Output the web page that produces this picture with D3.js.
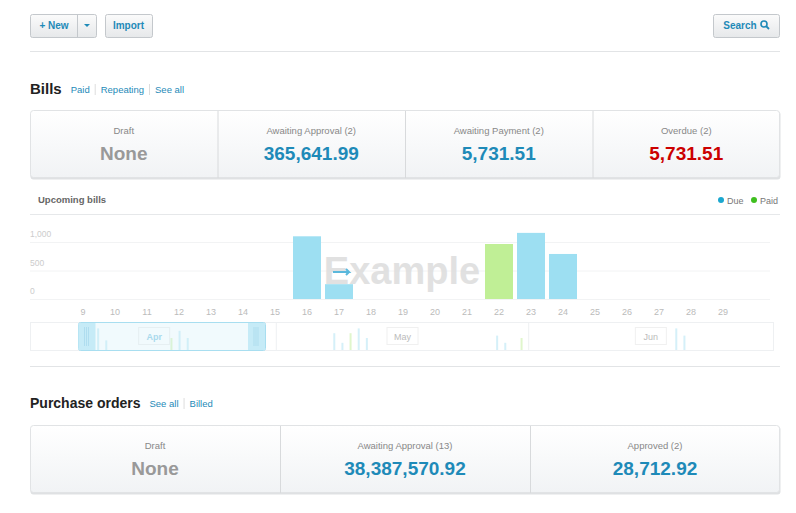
<!DOCTYPE html>
<html><head><meta charset="utf-8">
<script src="https://cdn.jsdelivr.net/npm/d3@7"></script>
<style>body{margin:0;background:#fff;font-family:"Helvetica Neue",Arial,"Liberation Sans",sans-serif}</style>
</head><body><svg id="s" width="796" height="513"></svg>
<script>
const days=d3.range(9,30);
const dueDays=[16,17,23,24], dueVals=[1100,260,1160,790];
const paidDays=[22], paidVals=[965];
const yTicks=[0,500,1000];
const navDueDays=[8,9,18,19,37,38,40,41,57,58,79,80], navDueVals=[900,400,800,500,700,300,900,500,600,300,900,600];
const navPaidDays=[17,39,60], navPaidVals=[500,700,500];
const months=["Apr","May","Jun"];
const billCards=[["Draft","None"],["Awaiting Approval (2)","365,641.99"],["Awaiting Payment (2)","5,731.51"],["Overdue (2)","5,731.51"]];
const poCards=[["Draft","None"],["Awaiting Approval (13)","38,387,570.92"],["Approved (2)","28,712.92"]];

const svg=d3.select("#s");
const blue="#1e8ab8";
const defs=svg.append("defs");
const g1=defs.append("linearGradient").attr("id","btn").attr("x1",0).attr("y1",0).attr("x2",0).attr("y2",1);
g1.append("stop").attr("offset",0).attr("stop-color","#fbfbfb");g1.append("stop").attr("offset",1).attr("stop-color","#e6e8ea");
const g2=defs.append("linearGradient").attr("id","card").attr("x1",0).attr("y1",0).attr("x2",0).attr("y2",1);
g2.append("stop").attr("offset",0).attr("stop-color","#ffffff");g2.append("stop").attr("offset",1).attr("stop-color","#f1f3f5");

function btn(x,w,label){svg.append("rect").attr("x",x+.5).attr("y",14.5).attr("width",w).attr("height",23).attr("rx",2).attr("fill","url(#btn)").attr("stroke","#c4c8cc");
 if(label)svg.append("text").attr("x",x+w/2).attr("y",29).attr("text-anchor","middle").attr("font-size",10).attr("font-weight","bold").attr("fill",blue).text(label);}
btn(30,66,null);
svg.append("text").attr("x",54).attr("y",29).attr("text-anchor","middle").attr("font-size",10).attr("font-weight","bold").attr("fill",blue).text("+ New");
svg.append("line").attr("x1",77.5).attr("x2",77.5).attr("y1",15).attr("y2",37).attr("stroke","#c4c8cc");
svg.append("path").attr("d","M84,24 l6,0 l-3,3z").attr("fill",blue);
btn(105,47,"Import");
btn(713,66,null);
svg.append("text").attr("x",740).attr("y",29).attr("text-anchor","middle").attr("font-size",10).attr("font-weight","bold").attr("fill",blue).text("Search");
svg.append("circle").attr("cx",764).attr("cy",24).attr("r",3).attr("fill","none").attr("stroke",blue).attr("stroke-width",1.6);
svg.append("line").attr("x1",766).attr("y1",26).attr("x2",769).attr("y2",29).attr("stroke",blue).attr("stroke-width",1.8);
[51.5,366.5].forEach(y=>svg.append("line").attr("x1",30).attr("x2",780).attr("y1",y).attr("y2",y).attr("stroke","#e2e4e6"));

function header(y,title,links){
 const t=svg.append("text").attr("x",30).attr("y",y).attr("font-size",title=="Bills"?15:14).attr("font-weight","bold").attr("fill","#222").text(title);
 let x=30+t.node().getComputedTextLength()+9;
 links.forEach((l,i)=>{const lt=svg.append("text").attr("x",x).attr("y",y-1).attr("font-size",9.5).attr("fill",blue).text(l);
  x+=lt.node().getComputedTextLength();
  if(i<links.length-1){svg.append("line").attr("x1",x+5.5).attr("x2",x+5.5).attr("y1",y-10).attr("y2",y+1).attr("stroke","#ddd");x+=11;}});
}
header(94,"Bills",["Paid","Repeating","See all"]);
header(408,"Purchase orders",["See all","Billed"]);

function cards(y,list,colors){
 const x=d3.scaleBand().domain(d3.range(list.length)).range([30,780]);
 svg.append("rect").attr("x",30.5).attr("y",y+1.5).attr("width",750).attr("height",68).attr("rx",3).attr("fill","#dfe1e3");
 svg.append("rect").attr("x",30.5).attr("y",y+.5).attr("width",749).attr("height",67).attr("rx",3).attr("fill","url(#card)").attr("stroke","#e1e3e5");
 list.forEach((c,i)=>{
  if(i>0)svg.append("line").attr("x1",x(i)+.5).attr("x2",x(i)+.5).attr("y1",y+1).attr("y2",y+68).attr("stroke","#d8dadc");
  svg.append("text").attr("x",x(i)+x.bandwidth()/2).attr("y",y+24).attr("text-anchor","middle").attr("font-size",9.5).attr("fill","#888").text(c[0]);
  svg.append("text").attr("x",x(i)+x.bandwidth()/2).attr("y",y+50).attr("text-anchor","middle").attr("font-size",19).attr("font-weight","bold").attr("fill",colors[i]).text(c[1]);
 });
}
cards(110,billCards,["#999",blue,blue,"#cc0000"]);
cards(425,poCards,["#999",blue,blue]);

// chart header
svg.append("text").attr("x",38).attr("y",203).attr("font-size",9.5).attr("font-weight","bold").attr("fill","#666").text("Upcoming bills");
svg.append("line").attr("x1",30).attr("x2",780).attr("y1",214.5).attr("y2",214.5).attr("stroke","#e6e8ea");
const leg=[["Due","#1ba7cf",721],["Paid","#3fbf1f",754]];
leg.forEach(l=>{svg.append("circle").attr("cx",l[2]).attr("cy",200).attr("r",3).attr("fill",l[1]);
 svg.append("text").attr("x",l[2]+6).attr("y",203.5).attr("font-size",9).attr("fill","#777").text(l[0]);});

const x=d3.scaleLinear().domain([9,29]).range([83,723]);
const y=d3.scaleLinear().domain([0,1000]).range([299,242]);
const grid=svg.append("g");
yTicks.forEach(t=>{grid.append("line").attr("x1",30).attr("x2",770).attr("y1",y(t)+.5).attr("y2",y(t)+.5).attr("stroke","#f2f3f4");
 grid.append("text").attr("x",30).attr("y",y(t)-5).attr("font-size",8.5).attr("fill","#ccc").text(d3.format(",")(t));});
const bw=28;
svg.selectAll(".due").data(dueDays).join("rect").attr("x",d=>x(d)-bw/2).attr("width",bw).attr("y",(d,i)=>y(dueVals[i])).attr("height",(d,i)=>299-y(dueVals[i])).attr("fill","#9ddff2");
svg.selectAll(".paid").data(paidDays).join("rect").attr("x",d=>x(d)-bw/2).attr("width",bw).attr("y",(d,i)=>y(paidVals[i])).attr("height",(d,i)=>299-y(paidVals[i])).attr("fill","#c0ef96");
svg.append("text").attr("x",402).attr("y",284).attr("text-anchor","middle").attr("font-size",38).attr("font-weight","bold").attr("fill","#d8d8d8").attr("opacity",.75).text("Example");
svg.append("path").attr("d","M333,272 h16 l-3,-3 M349,272 l-3,3").attr("stroke","#5ab8dc").attr("stroke-width",2).attr("fill","none");
svg.append("g").selectAll("text").data(days).join("text").attr("x",d=>x(d)).attr("y",315).attr("text-anchor","middle").attr("font-size",9).attr("fill","#bbb").text(d=>d);

// navigator
const nx=d3.scaleLinear().domain([0,91]).range([32,773]);
const ny=d3.scaleLinear().domain([0,1000]).range([350,326]);
svg.append("rect").attr("x",30.5).attr("y",322.5).attr("width",743).attr("height",28).attr("fill","#fff").attr("stroke","#eef0f2");
[30,61].forEach(d=>svg.append("line").attr("x1",nx(d)).attr("x2",nx(d)).attr("y1",323).attr("y2",350).attr("stroke","#eef0f2"));
svg.selectAll(".nd").data(navDueDays).join("rect").attr("x",d=>nx(d)).attr("width",2).attr("y",(d,i)=>ny(navDueVals[i])).attr("height",(d,i)=>350-ny(navDueVals[i])).attr("fill","#d5f0f9");
svg.selectAll(".np").data(navPaidDays).join("rect").attr("x",d=>nx(d)).attr("width",2).attr("y",(d,i)=>ny(navPaidVals[i])).attr("height",(d,i)=>350-ny(navPaidVals[i])).attr("fill","#e0f6cc");
months.forEach((m,i)=>{const cx=nx(15+i*30.5);
 svg.append("rect").attr("x",cx-15.5).attr("y",327.5).attr("width",31).attr("height",17).attr("fill","#fff").attr("stroke","#f0f0f0");
 svg.append("text").attr("x",cx).attr("y",340).attr("text-anchor","middle").attr("font-size",9).attr("font-weight",i==0?"bold":"normal").attr("fill",i==0?"#9fd4ea":"#bbb").text(m);});
svg.append("rect").attr("x",78.5).attr("y",322.5).attr("width",187).attr("height",28).attr("rx",2).attr("fill","rgba(200,236,248,0.25)").attr("stroke","#a8def0");
[78.5,248].forEach(hx=>{svg.append("rect").attr("x",hx).attr("y",323).attr("width",17).attr("height",27).attr("fill","#c6ebf7");
 [6,8,10].forEach(o=>svg.append("line").attr("x1",hx+o).attr("x2",hx+o).attr("y1",327).attr("y2",346).attr("stroke","#9fd4ea").attr("stroke-width",.6));});
</script></body></html>
